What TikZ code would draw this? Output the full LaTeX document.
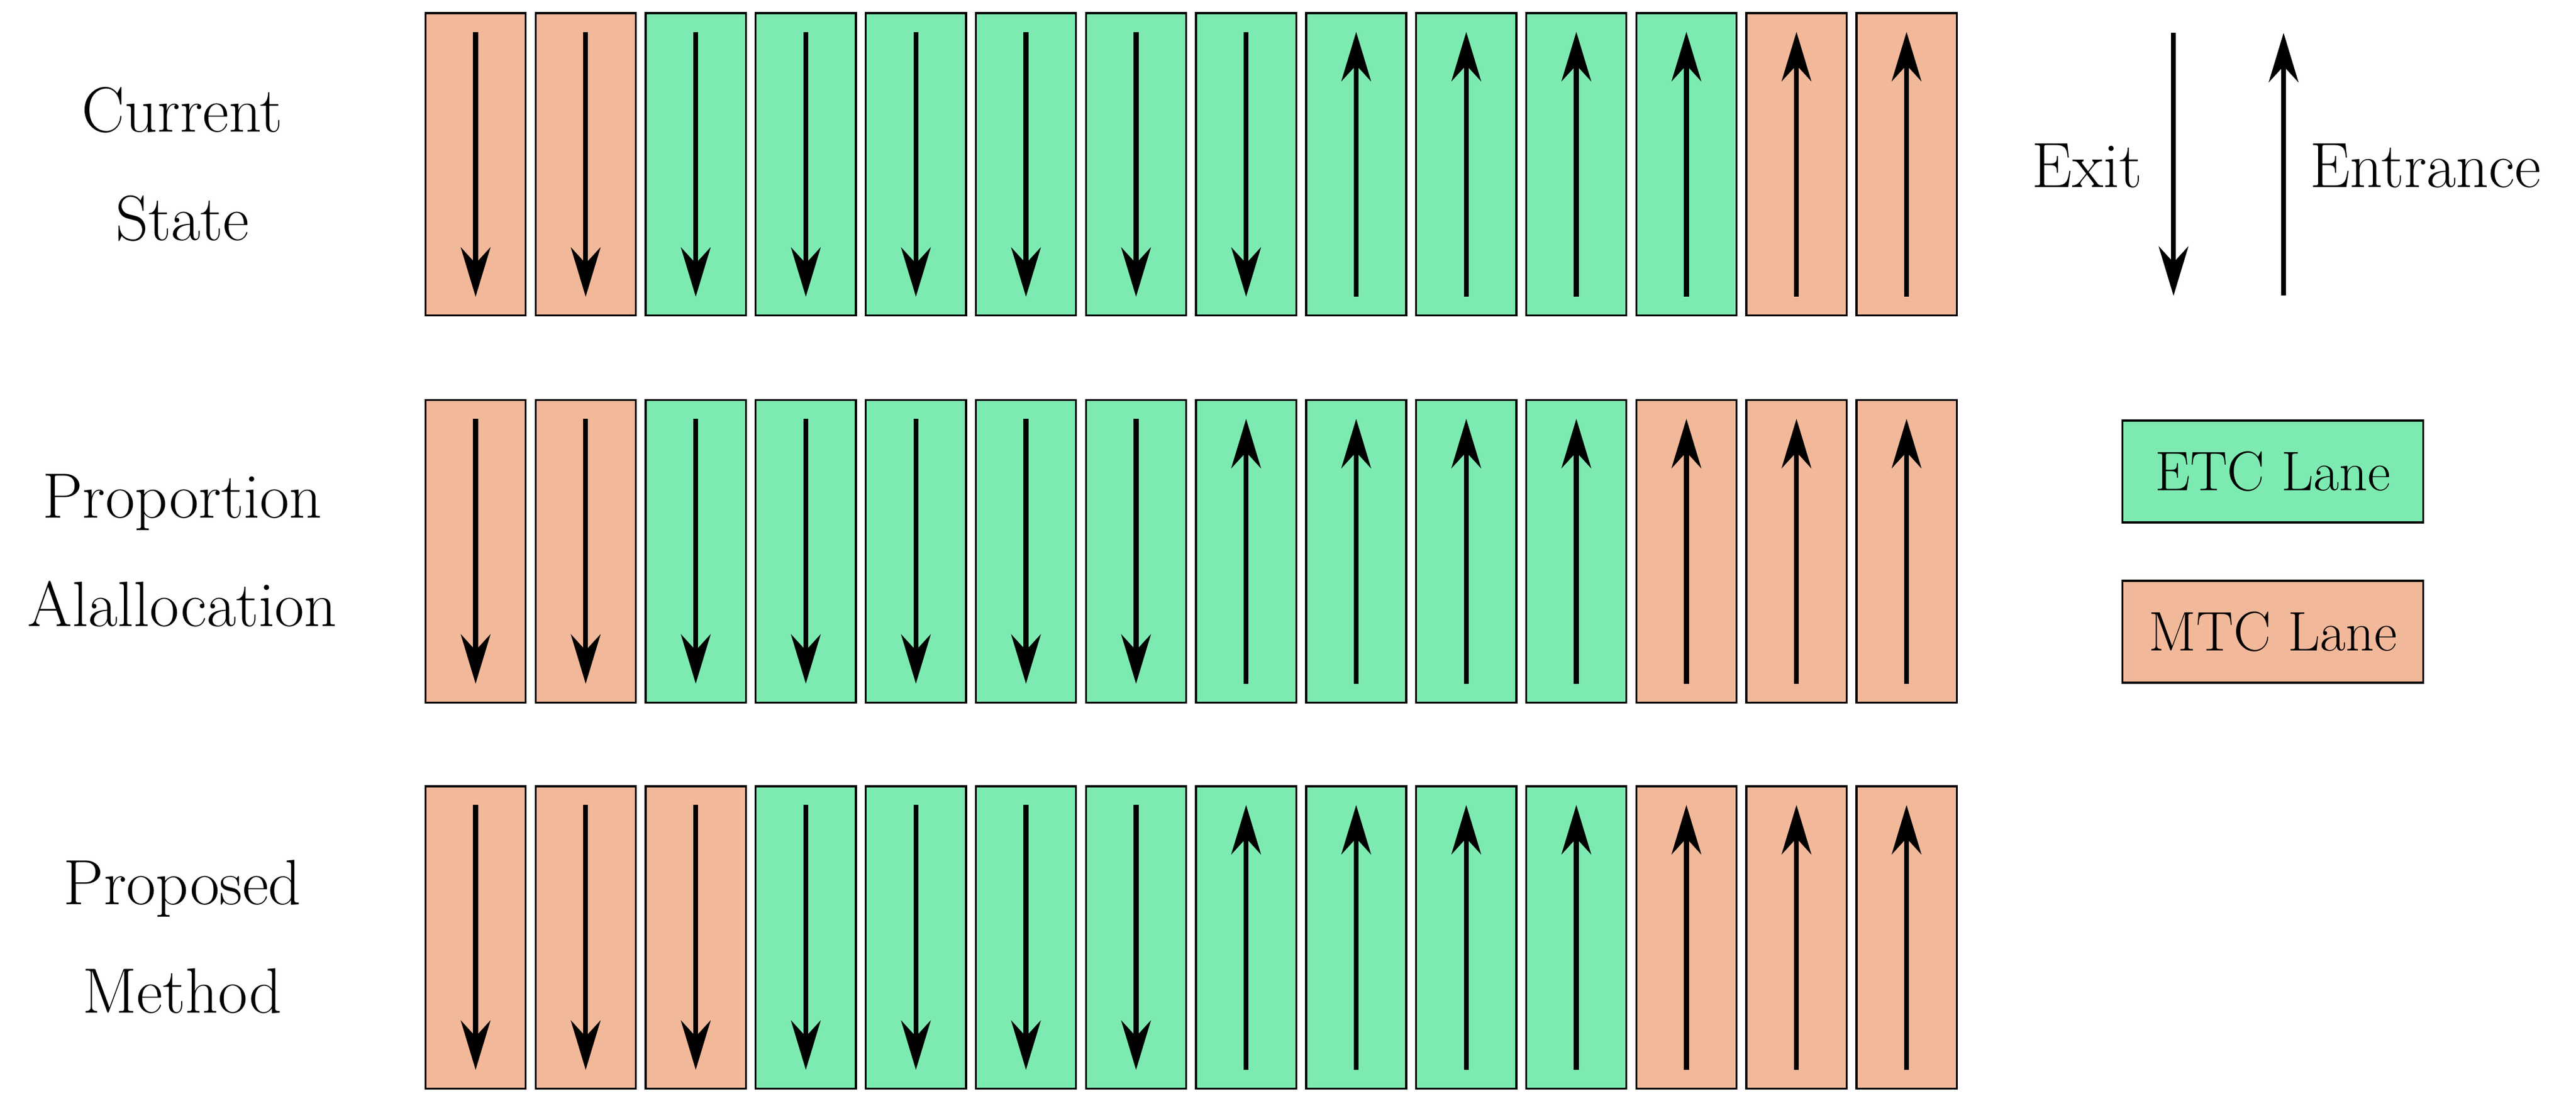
\documentclass[tikz,border=0pt]{standalone}
\usetikzlibrary{arrows.meta}
\definecolor{etc}{HTML}{7DEBB1}
\definecolor{mtc}{HTML}{F2B89A}
\newcommand\lanerow[3]{%
  \foreach [count=\i] \c/\d in {#3} {
    \pgfmathsetmacro{\xc}{289.5+(\i-1)*67.0}
    \if\c M\def\fc{mtc}\else\def\fc{etc}\fi
    \node[lane,fill=\fc] (l#1-\i) at (\xc,#2) {};
    \if\d D
      \draw[flow] ([yshift=-6pt]l#1-\i.north) -- ([yshift=6pt]l#1-\i.south);
    \else
      \draw[flow] ([yshift=6pt]l#1-\i.south) -- ([yshift=-6pt]l#1-\i.north);
    \fi
  }}
\begin{document}
\begin{tikzpicture}[x=0.5pt,y=-0.5pt,
  lane/.style={draw=black,line width=0.6pt,minimum width=30.5pt,minimum height=92pt,inner sep=0pt},
  flow/.style={line width=1.5pt,-{Stealth[length=15pt,width=9pt]}},
  lbl/.style={font=\fontsize{19.5}{23}\selectfont,align=center},
  leg/.style={draw=black,line width=0.6pt,fill=etc,minimum width=91.5pt,minimum height=31pt,font=\fontsize{17}{20}\selectfont}]
\useasboundingbox (0,0) rectangle (1568,674);
\lanerow{1}{100}{M/D,M/D,E/D,E/D,E/D,E/D,E/D,E/D,E/U,E/U,E/U,E/U,M/U,M/U}
\lanerow{2}{335.5}{M/D,M/D,E/D,E/D,E/D,E/D,E/D,E/U,E/U,E/U,E/U,M/U,M/U,M/U}
\lanerow{3}{570.5}{M/D,M/D,M/D,E/D,E/D,E/D,E/D,E/U,E/U,E/U,E/U,M/U,M/U,M/U}
\node[lbl] (t1) at (111,100) {Current\\[10pt]State};
\node[lbl] (t2) at (111,335) {Proportion\\[10pt]Alallocation};
\node[lbl] (t3) at (111,570) {Proposed\\[10pt]Method};
\coordinate (ex1) at (1323,20); \coordinate (ex2) at (1323,180);
\coordinate (en1) at (1390,180); \coordinate (en2) at (1390,20);
\draw[flow] (ex1) -- (ex2);
\draw[flow] (en1) -- (en2);
\node[lbl,anchor=east] (exit) at (1311,101) {Exit};
\node[lbl,anchor=west] (entr) at (1399,101) {Entrance};
\node[leg] (etcl) at (1383.5,287) {ETC Lane};
\node[leg,fill=mtc] (mtcl) at (1383.5,384.5) {MTC Lane};
\end{tikzpicture}
\end{document}
